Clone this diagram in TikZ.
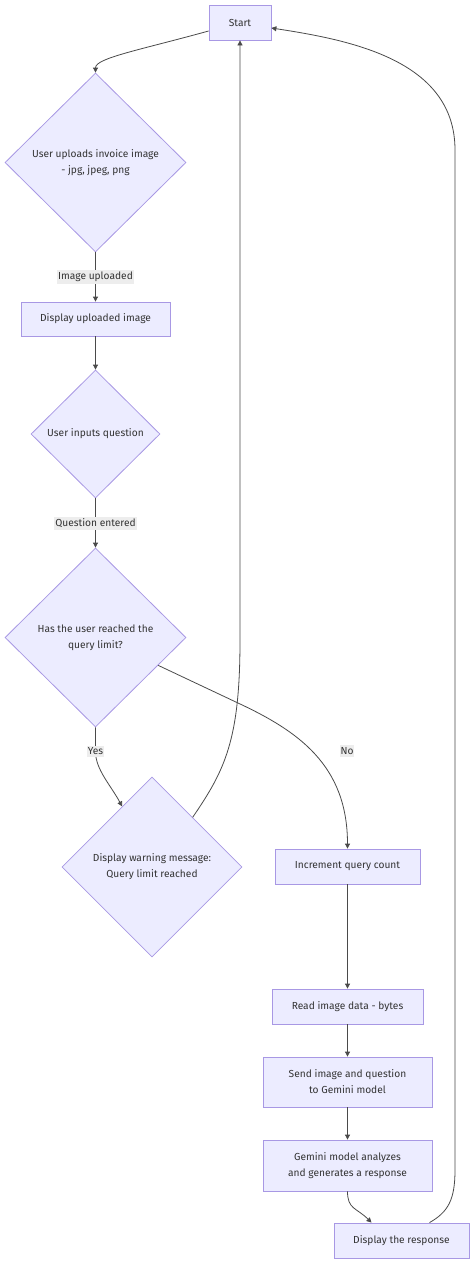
\documentclass[tikz,border=0pt]{standalone}
\usepackage{fontspec}
\setmainfont{Fira Sans}
\usetikzlibrary{shapes.geometric,arrows.meta,calc}
\definecolor{nfill}{HTML}{ECECFF}
\definecolor{nstroke}{HTML}{A898E4}
\definecolor{ink}{HTML}{333333}
\definecolor{eline}{HTML}{4A4A4A}
\definecolor{lblbg}{HTML}{EDEDED}
\begin{document}
\begin{tikzpicture}[x=1pt,y=-1pt,
  base/.style={draw=nstroke, fill=nfill, line width=0.8pt, text=ink,
    font=\fontsize{10.2}{16}\selectfont, align=center, inner sep=0pt},
  proc/.style={base, rectangle},
  dec/.style={base, diamond},
  edge/.style={draw=eline, line width=0.8pt, -{Triangle[length=5pt,width=5pt]}},
  lbl/.style={fill=lblbg, text=ink, font=\fontsize{10.2}{12}\selectfont,
    inner xsep=1pt, inner ysep=2pt}]
\useasboundingbox (0,0) rectangle (474,1264);
% nodes
\node[proc, minimum width=62, minimum height=35] (start) at (240,22.5) {Start};
\node[dec, minimum width=181, minimum height=179] (d1) at (95.5,162.5)
  {User uploads invoice image\\- jpg, jpeg, png};
\node[proc, minimum width=149, minimum height=34] (disp) at (95.5,319) {Display uploaded image};
\node[dec, minimum width=129, minimum height=128] (d2) at (95.5,434) {User inputs question};
\node[dec, minimum width=181, minimum height=179] (d3) at (95.5,637.5)
  {Has the user reached the\\query limit?};
\node[dec, minimum width=180, minimum height=180] (d4) at (152,867)
  {Display warning message:\\Query limit reached};
\node[proc, minimum width=145, minimum height=35] (inc) at (347.5,866.5) {Increment query count};
\node[proc, minimum width=151, minimum height=35] (read) at (347.5,1006.5) {Read image data - bytes};
\node[proc, minimum width=169, minimum height=50] (send) at (347.5,1082)
  {Send image and question\\to Gemini model};
\node[proc, minimum width=169, minimum height=51] (gem) at (347.5,1165.5)
  {Gemini model analyzes\\and generates a response};
\node[proc, minimum width=135, minimum height=35] (resp) at (401.5,1240.5) {Display the response};
% edges
\draw[edge] ([yshift=-8.5pt]start.west) .. controls (140,50) and (95.5,58) .. (d1.north);
\draw[edge] (d1.south) -- node[lbl]{Image uploaded} (disp.north);
\draw[edge] (disp.south) -- (d2.north);
\draw[edge] (d2.south) -- node[lbl]{Question entered} (d3.north);
\draw[edge] (d3.south) -- ++(0,24) node[lbl]{Yes}
  .. controls +(0,18) and +(-12,-22) .. ($(d4.north)!0.33!(d4.west)$);
\draw[edge] ($(d3.east)!0.31!(d3.south)$) -- (238,703)
  .. controls (298,731) and (347.5,765) .. (inc.north)
  node[lbl] at (347,751) {No};
\draw[edge] ($(d4.north)!0.45!(d4.east)$) .. controls (225,770) and (240,740) .. (240,640)
  -- (start.south);
\draw[edge] (inc.south) -- (read.north);
\draw[edge] (read.south) -- (send.north);
\draw[edge] (send.south) -- (gem.north);
\draw[edge] (gem.south) .. controls +(0,18) and +(-15,-15) .. ($(resp.north)+(-30,0)$);
\draw[edge] ($(resp.north)+(28,0)$) .. controls (448,1212) and (455,1200) .. (455,1170)
  -- (455,150) .. controls (455,60) and (350,40) .. ([yshift=-5.5pt]start.east);
\end{tikzpicture}
\end{document}
